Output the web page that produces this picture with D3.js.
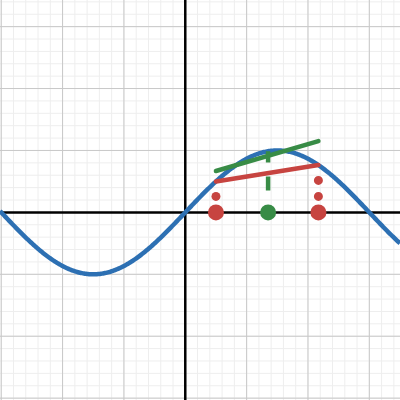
<!DOCTYPE html>
<html><head><meta charset="utf-8">
<script src="https://cdn.jsdelivr.net/npm/d3@7"></script>
<style>body{margin:0;background:#fff}</style></head>
<body><svg id="c" width="400" height="400"></svg>
<script>
"use strict";
// graph window in math units
const xDomain = [-3.02, 3.5];
const yDomain = [-3.03, 3.43];
const gridX = [-3, -2, -1, 1, 2, 3];
const gridY = [-3, -2, -1, 1, 2, 3];
const secantX = [0.5, 2.17];
const tangentX = 1.35;
const tangentSpan = [0.5, 2.17];

const f = x => Math.sin(x * Math.PI / 3);
const df = x => Math.cos(x * Math.PI / 3) * Math.PI / 3;

const svg = d3.select("#c");
const x = d3.scaleLinear().domain(xDomain).range([0, 400]);
const y = d3.scaleLinear().domain(yDomain).range([400, 0]);

// minor grid
const minor = [];
for (let v = -3; v <= 3.5; v += 0.2) minor.push(+v.toFixed(2));
svg.selectAll(".mx").data(minor).join("line")
  .attr("x1", d => x(d)).attr("x2", d => x(d)).attr("y1", 0).attr("y2", 400)
  .attr("stroke", "#eee").attr("stroke-width", 1);
svg.selectAll(".my").data(minor).join("line")
  .attr("y1", d => y(d)).attr("y2", d => y(d)).attr("x1", 0).attr("x2", 400)
  .attr("stroke", "#eee").attr("stroke-width", 1);
svg.selectAll(".gx").data(gridX).join("line")
  .attr("x1", d => x(d)).attr("x2", d => x(d)).attr("y1", 0).attr("y2", 400)
  .attr("stroke", "#c8c8c8").attr("stroke-width", 1);
svg.selectAll(".gy").data(gridY).join("line")
  .attr("y1", d => y(d)).attr("y2", d => y(d)).attr("x1", 0).attr("x2", 400)
  .attr("stroke", "#c8c8c8").attr("stroke-width", 1);

// axes
svg.append("line").attr("x1", x(0)).attr("x2", x(0)).attr("y1", 0).attr("y2", 400)
  .attr("stroke", "#000").attr("stroke-width", 2.5);
svg.append("line").attr("y1", y(0)).attr("y2", y(0)).attr("x1", 0).attr("x2", 400)
  .attr("stroke", "#000").attr("stroke-width", 2.5);

// curve
const pts = d3.range(0, 401).map(i => xDomain[0] + i * (xDomain[1] - xDomain[0]) / 400);
svg.append("path").attr("d", d3.line().x(d => x(d)).y(d => f(d) === null ? 0 : y(f(d)))(pts))
  .attr("fill", "none").attr("stroke", "#2d70b3").attr("stroke-width", 4.5);

// secant
const red = "#c74440";
svg.append("line")
  .attr("x1", x(secantX[0])).attr("y1", y(f(secantX[0])))
  .attr("x2", x(secantX[1])).attr("y2", y(f(secantX[1])))
  .attr("stroke", red).attr("stroke-width", 4.5).attr("stroke-linecap", "round");
secantX.forEach(v => {
  svg.append("line")
    .attr("x1", x(v)).attr("y1", y(0) - 16).attr("x2", x(v)).attr("y2", y(f(v)))
    .attr("stroke", red).attr("stroke-width", 9).attr("stroke-linecap", "round")
    .attr("stroke-dasharray", "0,16");
  svg.append("circle").attr("cx", x(v)).attr("cy", y(0)).attr("r", 8).attr("fill", red);
});

// tangent
const green = "#388c46";
svg.append("line")
  .attr("x1", x(tangentSpan[0])).attr("y1", y(f(tangentX) + df(tangentX) * (tangentSpan[0] - tangentX) - 0.18))
  .attr("x2", x(tangentSpan[1])).attr("y2", y(f(tangentX) + df(tangentX) * (tangentSpan[1] - tangentX) + 0.03))
  .attr("stroke", green).attr("stroke-width", 4.5).attr("stroke-linecap", "round");
svg.append("line")
  .attr("x1", x(tangentX)).attr("y1", y(0) - 22).attr("x2", x(tangentX)).attr("y2", y(f(tangentX)))
  .attr("stroke", green).attr("stroke-width", 4.5)
  .attr("stroke-dasharray", "14,14");
svg.append("circle").attr("cx", x(tangentX)).attr("cy", y(0)).attr("r", 8).attr("fill", green);
</script></body></html>
